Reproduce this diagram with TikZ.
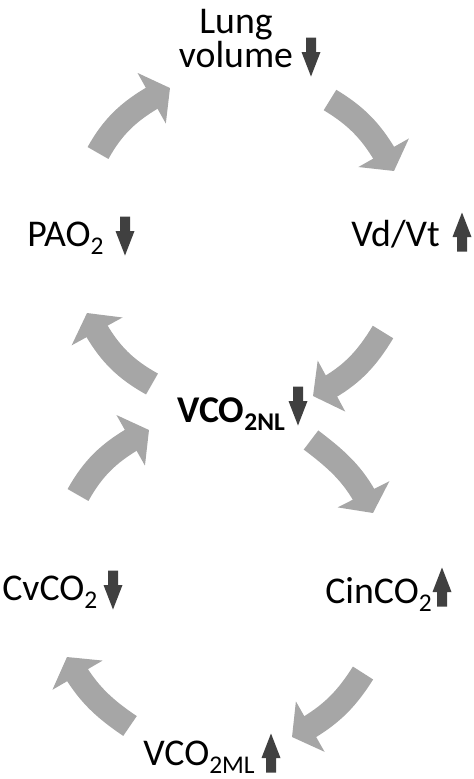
\documentclass[tikz,border=0pt]{standalone}
\usepackage{fontspec}
\setmainfont{Carlito}
\usetikzlibrary{arrows.meta,bending}

\definecolor{flowgray}{HTML}{A6A6A6}
\definecolor{markgray}{HTML}{404040}

\newcommand{\lowsub}[1]{\raisebox{-5pt}{\fontsize{14.5}{14.5}\selectfont #1}}

\tikzset{
  flow/.style={draw=flowgray, line width=0.48cm, -{Triangle[length=0.42cm, width=1.14cm]}},
  markdown/.pic={\fill[markgray] (-5,19.5) -- (5,19.5) -- (5,5) -- (9.5,5) -- (0,-19.5) -- (-9.5,5) -- (-5,5) -- cycle;},
  markup/.pic={\fill[markgray] (-5,-19.5) -- (5,-19.5) -- (5,-5) -- (9.5,-5) -- (0,19.5) -- (-9.5,-5) -- (-5,-5) -- cycle;}
}

\begin{document}
\begin{tikzpicture}[x=0.02cm, y=0.02cm, every node/.style={inner sep=0pt, font=\fontsize{21.5}{19.5}\selectfont}]
      \useasboundingbox (0,0) rectangle (474,-779);

      % Labels
      \node[anchor=north, align=center] (lung) at (236,-9) {Lung\\volume};
      \node[anchor=base west] (pao) at (27,-246) {PAO\lowsub{2}};
      \node[anchor=base west] (vdvt) at (351,-246) {Vd/Vt};
      \node[anchor=base west] (vconl) at (177,-422) {\textbf{VCO\lowsub{2NL}}};
      \node[anchor=base west] (cvco) at (2,-600) {CvCO\lowsub{2}};
      \node[anchor=base west] (cinco) at (325,-603) {CinCO\lowsub{2}};
      \node[anchor=base west] (vcoml) at (143,-765) {VCO\lowsub{2ML}};

      % Up and down marks
      \pic at (311,-57) {markdown};
      \pic at (125,-236) {markdown};
      \pic at (462,-232) {markup};
      \pic at (298,-406) {markdown};
      \pic at (113,-590) {markdown};
      \pic at (442,-587) {markup};
      \pic at (271,-753) {markup};

      % Arrow ends
      \coordinate (a1s) at (98,-153);   \coordinate (a1e) at (170,-88);
      \coordinate (a2s) at (330,-100);  \coordinate (a2e) at (394,-171);
      \coordinate (a3s) at (383,-332);  \coordinate (a3e) at (313,-396);
      \coordinate (a4s) at (152,-384);  \coordinate (a4e) at (87,-313);
      \coordinate (a5s) at (78,-495);   \coordinate (a5e) at (149,-430);
      \coordinate (a6s) at (311,-440);  \coordinate (a6e) at (373,-513);
      \coordinate (a7s) at (130,-726);  \coordinate (a7e) at (67,-657);
      \coordinate (a8s) at (363,-673);  \coordinate (a8e) at (292,-737);

      % Flow arrows
      \draw[flow] (a1s) to[out=61, in=208] (a1e);
      \draw[flow] (a2s) to[out=-31, in=118] (a2e);
      \draw[flow] (a3s) to[out=239, in=26] (a3e);
      \draw[flow] (a4s) to[out=151, in=297] (a4e);
      \draw[flow] (a5s) to[out=61, in=208] (a5e);
      \draw[flow] (a6s) to[out=-37, in=114] (a6e);
      \draw[flow] (a7s) to[out=146, in=298] (a7e);
      \draw[flow] (a8s) to[out=238, in=28] (a8e);
\end{tikzpicture}
\end{document}
